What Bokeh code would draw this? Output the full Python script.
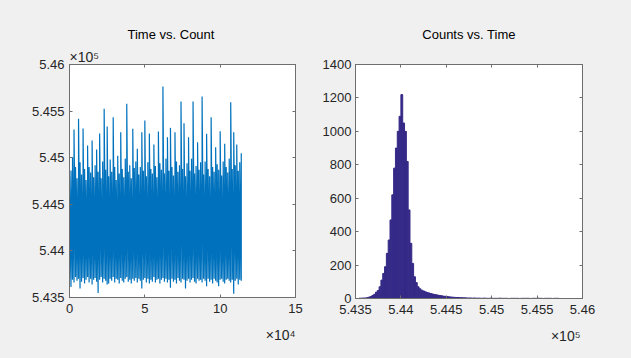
from bokeh.plotting import figure
from bokeh.layouts import row
from bokeh.models import FixedTicker, LinearAxis, Range1d, CustomJSTickFormatter, Title
from bokeh.embed import file_html
from bokeh.resources import INLINE

# ---------------- data ----------------
# Left panel: time-series envelope per block of 1000 samples (max / min count)
block_start = [i * 1000 for i in range(115)]
block_max = [544800, 544863, 545005, 545302, 544900, 544780, 545417, 544950, 544820, 545313,
             544880, 544760, 545131, 544900, 544840, 545185, 544790, 544920, 545088, 544850,
             545260, 544780, 544960, 545525, 544870, 545335, 544800, 544980, 544850, 545435,
             544900, 544760, 545020, 544830, 545274, 544880, 544790, 544990, 545578, 544850,
             544920, 544780, 545310, 544890, 544960, 545095, 544820, 544900, 545274, 544860,
             545399, 544800, 544950, 545260, 544880, 544830, 545142, 544910, 544790, 545281,
             544940, 544870, 545764, 544830, 544990, 545220, 544860, 545320, 544900, 544810,
             545274, 544960, 544850, 544920, 545603, 544880, 545370, 544800, 544940, 545220,
             544860, 544990, 545603, 544830, 544910, 545166, 544870, 544950, 545657, 544820,
             544960, 545256, 544880, 544800, 545435, 544900, 544850, 545113, 544930, 544870,
             545285, 544810, 544960, 545149, 544900, 544840, 544990, 545596, 544880, 545274,
             544920, 545142, 544860, 544950, 545049]
block_min = [543700, 543614, 543690, 543660, 543720, 543680, 543700, 543596, 543670, 543710,
             543650, 543690, 543720, 543660, 543700, 543640, 543690, 543710, 543670, 543549,
             543690, 543720, 543660, 543700, 543680, 543640, 543650, 543700, 543680, 543720,
             543660, 543700, 543690, 543650, 543710, 543680, 543660, 543700, 543720, 543670,
             543690, 543650, 543700, 543680, 543710, 543660, 543700, 543680, 543596, 543690,
             543710, 543660, 543700, 543650, 543690, 543670, 543720, 543660, 543690, 543700,
             543650, 543690, 543710, 543670, 543700, 543660, 543690, 543604, 543700, 543670,
             543690, 543650, 543710, 543680, 543660, 543700, 543690, 543596, 543680, 543700,
             543660, 543690, 543710, 543670, 543650, 543700, 543680, 543690, 543660, 543700,
             543680, 543620, 543700, 543670, 543690, 543650, 543700, 543680, 543660, 543620,
             543690, 543700, 543670, 543650, 543690, 543700, 543680, 543660, 543690, 543540,
             543680, 543700, 543640, 543690, 543680]

# Right panel: histogram of counts
hist_start = 543540
hist_width = 20
hist_counts = [2, 2, 3, 3, 5, 8, 12, 18, 25, 38,
               48, 70, 110, 150, 190, 270, 350, 470, 620, 780,
               900, 1000, 1090, 1220, 1050, 1000, 820, 530, 330, 210,
               130, 95, 70, 58, 50, 45, 40, 36, 33, 30,
               27, 24, 22, 20, 18, 16, 14, 13, 12, 10,
               9, 8, 7, 6, 6, 5, 5, 4, 4, 3,
               3, 3, 2, 3, 2, 2, 2, 1, 2, 2,
               1, 1, 2, 1, 1, 1, 1, 2, 1, 1,
               1, 1, 0, 1, 1, 1, 1, 1, 0, 1,
               1, 1, 1, 1, 0, 1, 1, 1, 2, 1,
               1, 0, 1, 1, 1, 1, 0, 1, 1, 1]

# ticks
count_ticks = [543500, 544000, 544500, 545000, 545500, 546000]
count_tick_labels = ["5.435", "5.44", "5.445", "5.45", "5.455", "5.46"]
time_ticks = [0, 50000, 100000, 150000]
time_tick_labels = ["0", "5", "10", "15"]
freq_ticks = [0, 200, 400, 600, 800, 1000, 1200, 1400]
freq_tick_labels = ["0", "200", "400", "600", "800", "1000", "1200", "1400"]

# ---------------- style ----------------
FONT = "Liberation Sans"
BG = "#f0f0f0"
AX = "#6e6e6e"
LBL = "#262626"


def style_axis(ax, ticks, labels, show=True):
    ax.ticker = FixedTicker(ticks=ticks)
    ax.major_tick_in = 3
    ax.major_tick_out = 0
    ax.minor_tick_line_color = None
    ax.axis_line_color = AX
    ax.major_tick_line_color = AX
    ax.major_label_text_font = FONT
    ax.major_label_text_font_size = "13px"
    ax.major_label_text_color = LBL
    if show:
        ax.major_label_overrides = {t: l for t, l in zip(ticks, labels)}
    else:
        ax.formatter = CustomJSTickFormatter(code="return ''")
        ax.major_label_text_font_size = "0px"
        ax.major_label_standoff = 0


def sci_title(text, align, offset, size="14px"):
    return Title(text=text, align=align, offset=offset, text_font=FONT,
                 text_font_size=size, text_font_style="normal", text_color=LBL,
                 standoff=0)


def make_fig(title, xr, yr, fw, fh, bl, br):
    p = figure(frame_width=fw, frame_height=fh, x_range=xr, y_range=yr,
               output_backend="svg", toolbar_location=None, tools="",
               min_border_left=bl, min_border_right=br,
               min_border_top=64, min_border_bottom=350 - 64 - fh)
    p.border_fill_color = BG
    p.background_fill_color = "white"
    p.outline_line_color = AX
    p.xgrid.visible = False
    p.ygrid.visible = False
    p.title.text = title
    p.title.text_font = FONT
    p.title.text_font_size = "13px"
    p.title.text_font_style = "normal"
    p.title.text_color = "black"
    return p


# ---------------- left: Time vs. Count ----------------
p1 = make_fig("Time vs. Count", Range1d(0, 150000), Range1d(543500, 546000), 226, 233, 69, 23)
p1.title.align = "left"
p1.title.offset = 58
zig_x, zig_y = [], []
for xs, lo, hi in zip(block_start, block_min, block_max):
    zig_x += [xs, xs]
    zig_y += [lo, hi]
p1.line(zig_x, zig_y, line_color="#0072BD", line_width=1.2)
style_axis(p1.xaxis[0], time_ticks, time_tick_labels)
style_axis(p1.yaxis[0], count_ticks, count_tick_labels)
p1.xaxis[0].major_label_standoff = 6
p1.yaxis[0].major_label_standoff = 5
ax_t = LinearAxis()
style_axis(ax_t, time_ticks, time_tick_labels, show=False)
p1.add_layout(ax_t, "above")
p1.add_layout(sci_title("\u00d710\u2075", "left", 0), "above")
ax_r = LinearAxis()
style_axis(ax_r, count_ticks, count_tick_labels, show=False)
p1.add_layout(ax_r, "right")
p1.add_layout(sci_title("\u00a0", "left", 0, "7px"), "below")
p1.add_layout(sci_title("\u00d710\u2074", "right", 0), "below")

# ---------------- right: Counts vs. Time ----------------
p2 = make_fig("Counts vs. Time", Range1d(543500, 546000), Range1d(0, 1400), 227, 234, 37, 40)
p2.title.align = "center"
lefts = [hist_start + i * hist_width for i in range(len(hist_counts))]
rights = [l + hist_width for l in lefts]
p2.quad(left=lefts, right=rights, bottom=0, top=hist_counts,
        fill_color="#352A87", line_color="#352A87", line_width=1)
style_axis(p2.xaxis[0], count_ticks, count_tick_labels)
style_axis(p2.yaxis[0], freq_ticks, freq_tick_labels)
p2.xaxis[0].major_label_standoff = 6
p2.yaxis[0].major_label_standoff = 4
ax_t2 = LinearAxis()
style_axis(ax_t2, count_ticks, count_tick_labels, show=False)
p2.add_layout(ax_t2, "above")
p2.add_layout(sci_title("\u00a0", "left", 0), "above")
ax_r2 = LinearAxis()
style_axis(ax_r2, freq_ticks, freq_tick_labels, show=False)
p2.add_layout(ax_r2, "right")
p2.add_layout(sci_title("\u00a0", "left", 0, "7px"), "below")
p2.add_layout(sci_title("\u00d710\u2075", "right", 2), "below")

layout = row(p1, p2)
html = file_html(layout, INLINE)
html = html.replace("<head>", "<head><style>html,body{background:#f0f0f0;margin:0;}</style>", 1)
open("out.html", "w").write(html)
